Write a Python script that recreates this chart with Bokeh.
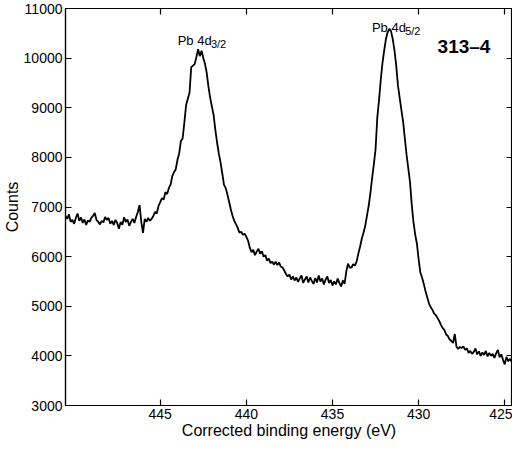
import numpy as np
from bokeh.plotting import figure
from bokeh.models import Range1d, LinearAxis, FixedTicker, Label
from bokeh.embed import file_html
from bokeh.resources import INLINE

# ---- data ----
energy_start = 450.5
energy_step = 0.1

counts_baseline = [
    6820, 6760, 6850, 6700, 6740, 6660, 6780, 6870, 6720, 6790,
    6680, 6750, 6640, 6730, 6700, 6780, 6820, 6880, 6740, 6700,
    6650, 6720, 6690, 6800, 6740, 6780, 6660, 6720, 6640, 6740,
    6680, 6560, 6700, 6640, 6790, 6700, 6750, 6620, 6700, 6760,
    6680, 6800, 6900, 7040, 6700, 6480, 6760, 6700, 6780, 6720,
]
counts_peak_3_2 = [
    6760, 6820, 6900, 6870, 7020, 7100, 7180, 7150, 7300, 7260,
    7380, 7450, 7620, 7700, 7760, 7950, 8080, 8330, 8380, 8700,
    9050, 9180, 9300, 9820, 9850, 9880, 10020, 10180, 10040, 10150,
    10000, 9880, 9700, 9420, 9200, 9020, 8850, 8550, 8300, 8080,
    7900, 7680, 7450, 7380, 7250, 7100, 6950, 6820, 6720, 6650,
    6580, 6480, 6500, 6440, 6460, 6400,
]
counts_valley = [
    6320, 6180, 6090, 6140, 6030, 6100, 6160, 6060, 6110, 6000,
    6030, 5920, 5960, 5870, 5900, 5840, 5900, 5830, 5880, 5800,
    5780, 5720, 5650, 5600, 5640, 5540, 5600, 5520, 5580, 5490,
    5560, 5620, 5470, 5540, 5600, 5480, 5580, 5510, 5450, 5570,
    5480, 5620, 5500, 5560, 5440, 5540, 5600, 5470, 5530, 5420,
    5500, 5440, 5560, 5470, 5400, 5520, 5450, 5700, 5860, 5780,
]
counts_peak_5_2 = [
    5780, 5850, 5820, 5900, 6060, 6200, 6360, 6480, 6620, 6820,
    7020, 7280, 7580, 7860, 8160, 8800, 9150, 9550, 9900, 10150,
    10380, 10520, 10590, 10540, 10380, 10150, 9850, 9450, 9200, 8950,
    8720, 8380, 8050, 7780, 7500, 7050, 6700, 6450, 6260, 5950,
    5680, 5580, 5450, 5300,
]
counts_tail = [
    5180, 5060, 4980, 4930, 4850, 4820, 4760, 4700, 4620, 4560,
    4520, 4430, 4400, 4330, 4300, 4260, 4440, 4180, 4140, 4180,
    4160, 4190, 4120, 4150, 4060, 4100, 4040, 4080, 4150, 4030,
    4090, 4000, 4070, 4020, 4100, 3990, 4060, 4000, 4040, 3960,
    4050, 4120, 3970, 4030, 3920, 3830, 3980, 3890, 3940, 3880,
]

x_ticks = [445, 440, 435, 430, 425]
y_ticks = [3000, 4000, 5000, 6000, 7000, 8000, 9000, 10000, 11000]

counts = np.array(counts_baseline + counts_peak_3_2 + counts_valley
                  + counts_peak_5_2 + counts_tail, dtype=float)
energy = np.round(energy_start - energy_step * np.arange(len(counts)), 1)

FONT = "Liberation Sans"

p = figure(width=512, height=441, output_backend="svg", toolbar_location=None,
           x_range=Range1d(450.5, 424.55), y_range=Range1d(3000, 11000),
           min_border_left=10, min_border_right=0, min_border_top=8,
           min_border_bottom=10)
p.xgrid.visible = False
p.ygrid.visible = False
p.outline_line_color = "black"
p.outline_line_width = 1.2
p.background_fill_color = "white"
p.border_fill_color = "white"

p.line(energy, counts, line_color="black", line_width=1.8)

bottom_axis = p.below[0]
left_axis = p.left[0]
bottom_axis.ticker = FixedTicker(ticks=x_ticks)
left_axis.ticker = FixedTicker(ticks=y_ticks)
bottom_axis.axis_label = "Corrected binding energy (eV)"
left_axis.axis_label = "Counts"

top_axis = LinearAxis(ticker=FixedTicker(ticks=x_ticks),
                      major_label_overrides={t: "" for t in x_ticks})
right_axis = LinearAxis(ticker=FixedTicker(ticks=y_ticks),
                        major_label_overrides={t: "" for t in y_ticks})
p.add_layout(top_axis, "above")
p.add_layout(right_axis, "right")

for ax in [bottom_axis, left_axis, top_axis, right_axis]:
    ax.axis_line_color = "black"
    ax.axis_line_width = 1.2
    ax.major_tick_line_color = "black"
    ax.major_tick_line_width = 1.2
    ax.major_tick_in = 6
    ax.major_tick_out = 0
    ax.minor_tick_in = 0
    ax.minor_tick_out = 0
    ax.major_label_text_font = FONT
    ax.major_label_text_font_size = "14px"
    ax.major_label_text_color = "black"
    ax.axis_label_text_font = FONT
    ax.axis_label_text_font_size = "16px"
    ax.axis_label_text_font_style = "normal"
    ax.axis_label_text_color = "black"

for ax in [top_axis, right_axis]:
    ax.major_label_standoff = 0

bottom_axis.major_label_standoff = 3
left_axis.major_label_standoff = 3
bottom_axis.axis_label_standoff = 0
left_axis.axis_label_standoff = 0

# ---- annotations ----
def add_text(x, y, text, size, style="normal"):
    p.add_layout(Label(x=x, y=y, text=text, text_font=FONT,
                       text_font_size=size, text_font_style=style,
                       text_color="black", text_baseline="alphabetic",
                       text_align="left"))

add_text(443.99, 10365, "Pb 4d", "13px")
add_text(442.06, 10290, "3/2", "11px")
add_text(432.71, 10623, "Pb 4d", "13px")
add_text(430.78, 10550, "5/2", "11px")
add_text(428.9, 10226, "313\u20134", "19px", "bold")

open("out.html", "w").write(file_html(p, INLINE))
